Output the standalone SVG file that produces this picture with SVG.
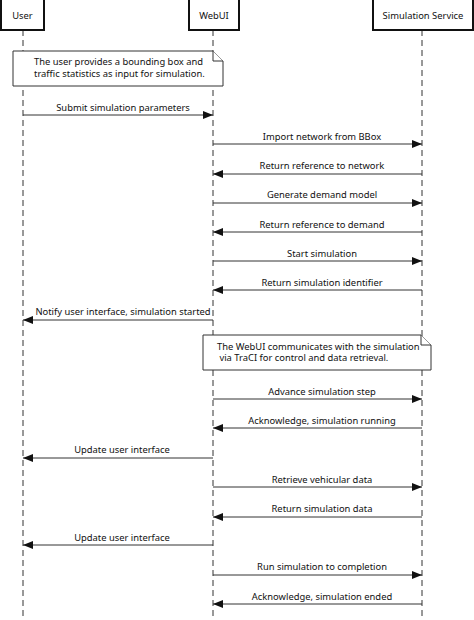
<svg xmlns="http://www.w3.org/2000/svg" width="474" height="620" viewBox="0 0 474 620">
<style>
text{font-family:"Noto Sans","Open Sans","DejaVu Sans",sans-serif;font-size:9.4px;fill:#111}
.actor{fill:#fff;stroke:#111;stroke-width:2}
.life{stroke:#333;stroke-width:1;stroke-dasharray:6,4;fill:none}
.msg{stroke:#333;stroke-width:1;fill:none;marker-end:url(#ah)}
.note{fill:#fff;stroke:#333;stroke-width:1}
.lbl{text-anchor:middle}
</style>
<defs>
<marker id="ah" viewBox="0 0 10 8" refX="10" refY="4" markerWidth="10" markerHeight="8" markerUnits="userSpaceOnUse" orient="auto">
<path d="M0,0 L10,4 L0,8 z" fill="#111"/>
</marker>
</defs>
<rect width="474" height="620" fill="#fff"/>
<g id="lifelines">
<line class="life" x1="23" y1="30" x2="23" y2="620"/>
<line class="life" x1="213" y1="30" x2="213" y2="620"/>
<line class="life" x1="422" y1="30" x2="422" y2="620"/>
</g>
<g id="user"><rect class="actor" x="1" y="-1" width="43" height="31"/><text class="lbl" x="22.5" y="19">User</text></g>
<g id="webui"><rect class="actor" x="189" y="-1" width="50" height="31"/><text class="lbl" x="214" y="19">WebUI</text></g>
<g id="sim"><rect class="actor" x="373" y="-1" width="100" height="31"/><text class="lbl" x="423" y="19">Simulation Service</text></g>
<g id="note1"><path class="note" d="M13,51 H213 L223,61 V86 H13 Z"/><path class="note" d="M213,51 V61 H223" fill="none"/>
<text x="34" y="65">The user provides a bounding box and</text><text x="34" y="76.5">traffic statistics as input for simulation.</text></g>
<g id="note2"><path class="note" d="M203,335 H421 L431,345 V370 H203 Z"/><path class="note" d="M421,335 V345 H431" fill="none"/>
<text x="217" y="349.5">The WebUI communicates with the simulation</text><text x="217" y="361" xml:space="preserve"> via TraCI for control and data retrieval.</text></g>
<g id="connectors">
<line class="msg" x1="23" y1="115" x2="213" y2="115"/>
<line class="msg" x1="213" y1="144" x2="422" y2="144"/>
<line class="msg" x1="422" y1="174" x2="213" y2="174"/>
<line class="msg" x1="213" y1="203" x2="422" y2="203"/>
<line class="msg" x1="422" y1="232" x2="213" y2="232"/>
<line class="msg" x1="213" y1="261" x2="422" y2="261"/>
<line class="msg" x1="422" y1="290" x2="213" y2="290"/>
<line class="msg" x1="213" y1="320" x2="23" y2="320"/>
<line class="msg" x1="213" y1="399" x2="422" y2="399"/>
<line class="msg" x1="422" y1="428" x2="213" y2="428"/>
<line class="msg" x1="213" y1="458" x2="23" y2="458"/>
<line class="msg" x1="213" y1="487" x2="422" y2="487"/>
<line class="msg" x1="422" y1="517" x2="213" y2="517"/>
<line class="msg" x1="213" y1="545" x2="23" y2="545"/>
<line class="msg" x1="213" y1="575" x2="422" y2="575"/>
<line class="msg" x1="422" y1="604" x2="213" y2="604"/>
</g>
<g id="labels">
<text class="lbl" x="123" y="110.5">Submit simulation parameters</text>
<text class="lbl" x="322" y="139.5">Import network from BBox</text>
<text class="lbl" x="322" y="169">Return reference to network</text>
<text class="lbl" x="322" y="198">Generate demand model</text>
<text class="lbl" x="322" y="227.5">Return reference to demand</text>
<text class="lbl" x="322" y="256.5">Start simulation</text>
<text class="lbl" x="322" y="285.5">Return simulation identifier</text>
<text class="lbl" x="123" y="315">Notify user interface, simulation started</text>
<text class="lbl" x="322" y="394.5">Advance simulation step</text>
<text class="lbl" x="322" y="423.5">Acknowledge, simulation running</text>
<text class="lbl" x="122" y="453">Update user interface</text>
<text class="lbl" x="322" y="482.5">Retrieve vehicular data</text>
<text class="lbl" x="322" y="512">Return simulation data</text>
<text class="lbl" x="122" y="540.5">Update user interface</text>
<text class="lbl" x="322" y="570">Run simulation to completion</text>
<text class="lbl" x="322" y="599.5">Acknowledge, simulation ended</text>
</g>
</svg>
